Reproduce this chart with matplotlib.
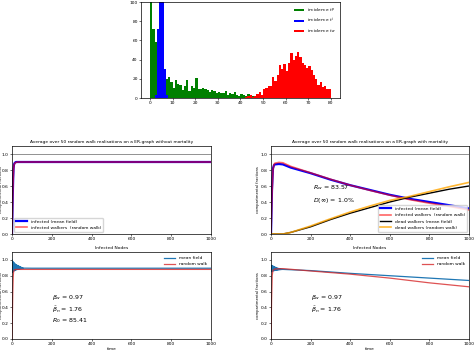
import matplotlib
matplotlib.use("Agg")
import matplotlib.pyplot as plt

# ---- histogram data (counts per unit bin) ----
tp_bins = list(range(0, 46))
tp_counts = [140, 72, 58, 58, 45, 30, 25, 20, 22, 17, 10, 19, 15, 14, 8, 12,
             19, 7, 12, 10, 21, 9, 9, 10, 9, 8, 6, 8, 7, 5, 6, 5, 5, 7, 3, 5,
             4, 6, 3, 2, 4, 3, 2, 4, 1, 2]
ti_bins = [2, 3, 4, 5, 6, 7]
ti_counts = [3, 72, 180, 220, 30, 3]
tw_bins = list(range(42, 80))
tw_counts = [1, 2, 3, 1, 2, 4, 6, 3, 9, 10, 13, 13, 22, 18, 24, 34, 30, 35,
             28, 36, 47, 40, 44, 48, 43, 36, 34, 31, 33, 29, 24, 20, 14, 17,
             11, 12, 9, 9]

# ---- without mortality ----
nm_t = [0, 2, 4, 6, 8, 10, 14, 20, 30, 1000]
nm_mf = [0, 0.25, 0.5, 0.7, 0.82, 0.87, 0.89, 0.9, 0.9, 0.9]
nm_rw = [0, 0.24, 0.49, 0.69, 0.81, 0.86, 0.885, 0.895, 0.9, 0.9]

# ---- with mortality ----
wm_t = [0, 5, 10, 15, 20, 40, 60, 100, 200, 300, 400, 500, 600, 700, 800, 900, 1000]
wm_inf_mf = [0, 0.55, 0.82, 0.86, 0.87, 0.875, 0.87, 0.83, 0.76, 0.68, 0.61,
             0.55, 0.49, 0.44, 0.40, 0.36, 0.32]
wm_inf_rw = [0, 0.5, 0.8, 0.87, 0.885, 0.895, 0.89, 0.845, 0.765, 0.685, 0.61,
             0.545, 0.485, 0.43, 0.385, 0.345, 0.30]
dead_t = [0, 60, 100, 200, 300, 400, 500, 600, 700, 800, 900, 1000]
dead_mf = [0, 0, 0.02, 0.09, 0.18, 0.26, 0.33, 0.40, 0.46, 0.51, 0.56, 0.60]
dead_rw = [0, 0, 0.02, 0.10, 0.19, 0.275, 0.35, 0.42, 0.47, 0.53, 0.59, 0.645]

# ---- infected nodes, without mortality ----
n1_mf_t = list(range(0, 62, 2)) + [100, 1000]
n1_mf = [1.0, 0.84, 0.98, 0.85, 0.97, 0.86, 0.96, 0.865, 0.95, 0.87, 0.94,
         0.875, 0.935, 0.878, 0.93, 0.88, 0.925, 0.883, 0.92, 0.885, 0.915,
         0.887, 0.91, 0.889, 0.905, 0.891, 0.902, 0.892, 0.899, 0.894, 0.896,
         0.895, 0.895]
n1_rw_t = [0, 2, 4, 6, 8, 12, 20, 1000]
n1_rw = [0, 0.3, 0.6, 0.78, 0.85, 0.875, 0.88, 0.88]

# ---- infected nodes, with mortality ----
n2_mf_t = list(range(0, 62, 2)) + [200, 400, 600, 800, 1000]
n2_mf = [0.93, 0.85, 0.93, 0.855, 0.925, 0.86, 0.92, 0.862, 0.915, 0.865,
         0.91, 0.867, 0.905, 0.868, 0.9, 0.87, 0.897, 0.872, 0.894, 0.874,
         0.891, 0.875, 0.889, 0.876, 0.887, 0.877, 0.885, 0.878, 0.884, 0.879,
         0.88, 0.865, 0.83, 0.80, 0.77, 0.74]
n2_rw_t = [0, 3, 6, 10, 20, 60, 200, 400, 600, 800, 1000]
n2_rw = [0, 0.5, 0.8, 0.87, 0.885, 0.89, 0.86, 0.82, 0.77, 0.71, 0.66]

FS = 3.2
W, H = 474, 350
fig = plt.figure(figsize=(W / 100, H / 100), dpi=100)


def box(x0, y0, x1, y1):
    return [x0 / W, 1 - y1 / H, (x1 - x0) / W, (y1 - y0) / H]


def style(ax, ylab=None, xlab=None, ylab_x=-0.045):
    ax.tick_params(labelsize=FS, length=1.5, width=0.4, pad=0.8)
    for s in ax.spines.values():
        s.set_linewidth(0.5)
    if ylab:
        ax.set_ylabel(ylab, fontsize=FS * 0.85)
        ax.yaxis.set_label_coords(ylab_x, 0.5)
    if xlab:
        ax.set_xlabel(xlab, fontsize=FS)
        ax.xaxis.set_label_coords(0.5, -0.095)


# histogram
ax = fig.add_axes(box(141, 2, 340, 98))
ax.bar(tp_bins, tp_counts, width=1, align="edge", color="green", label="incidence $t^p$")
ax.bar(ti_bins, ti_counts, width=1, align="edge", color="blue", label="incidence $t^i$")
ax.bar(tw_bins, tw_counts, width=1, align="edge", color="red", label="incidence $t_w$")
ax.set_ylim(0, 100)
ax.set_xlim(-4, 84)
ax.set_xticks(range(0, 81, 10))
style(ax)
ax.legend(fontsize=FS, frameon=False, loc="upper right", handlelength=2.2,
          handleheight=0.5, labelspacing=0.5)

# top-left
ax = fig.add_axes(box(12, 146, 211, 234))
ax.axhline(1.0, color="grey", lw=0.6)
ax.plot(nm_t, nm_mf, color="blue", lw=1.6, label="infected (mean field)")
ax.plot(nm_t, nm_rw, color="red", lw=1.2, alpha=0.6, label="infected walkers  (random walk)")
ax.set_xlim(0, 1000)
ax.set_ylim(0, 1.1)
ax.set_title("Average over 50 random walk realisations on a ER-graph without mortality",
             fontsize=FS, pad=2)
style(ax, ylab="compartmental fractions")
ax.legend(fontsize=FS, loc="lower left", handlelength=2.5)

# top-right
ax = fig.add_axes(box(271, 146, 469, 234))
ax.axhline(1.0, color="grey", lw=0.6)
ax.plot(wm_t, wm_inf_mf, color="blue", lw=1.6, label="infected (mean field)")
ax.plot(wm_t, wm_inf_rw, color="red", lw=1.2, alpha=0.6, label="infected walkers  (random walk)")
ax.plot(dead_t, dead_mf, color="black", lw=1.0, label="dead walkers (mean field)")
ax.plot(dead_t, dead_rw, color="orange", lw=1.2, alpha=0.8, label="dead walkers (random walk)")
ax.text(210, 0.575, r"$R_w$ = 83.57", fontsize=4.5, va="center")
ax.text(210, 0.42, r"$D(\infty)$ = 1.0%", fontsize=4.5, va="center")
ax.set_xlim(0, 1000)
ax.set_ylim(0, 1.1)
ax.set_title("Average over 50 random walk realisations on a ER-graph with mortality",
             fontsize=FS, pad=2)
style(ax, ylab="compartmental fractions", ylab_x=-0.055)
ax.legend(fontsize=FS, loc="lower right", handlelength=2.5)

# bottom-left
ax = fig.add_axes(box(12, 252, 211, 339))
ax.plot(n1_mf_t, n1_mf, color="tab:blue", lw=0.9, label="mean field")
ax.plot(n1_rw_t, n1_rw, color="tab:red", lw=0.9, alpha=0.8, label="random walk")
ax.text(200, 0.52, r"$\beta_w$ = 0.97", fontsize=4.5, va="center")
ax.text(200, 0.37, r"$\bar{\beta}_n$ = 1.76", fontsize=4.5, va="center")
ax.text(200, 0.23, r"$R_0$ = 85.41", fontsize=4.5, va="center")
ax.set_xlim(0, 1000)
ax.set_ylim(0, 1.1)
ax.set_title("Infected Nodes", fontsize=FS, pad=2)
style(ax, ylab="compartmental fractions", xlab="time")
ax.legend(fontsize=FS, loc="upper right", frameon=False, handlelength=2.5)

# bottom-right
ax = fig.add_axes(box(271, 252, 469, 339))
ax.plot(n2_mf_t, n2_mf, color="tab:blue", lw=0.9, label="mean field")
ax.plot(n2_rw_t, n2_rw, color="tab:red", lw=0.9, alpha=0.8, label="random walk")
ax.text(202, 0.52, r"$\beta_w$ = 0.97", fontsize=4.5, va="center")
ax.text(202, 0.37, r"$\bar{\beta}_n$ = 1.76", fontsize=4.5, va="center")
ax.set_xlim(0, 1000)
ax.set_ylim(0, 1.1)
ax.set_title("Infected Nodes", fontsize=FS, pad=2)
style(ax, ylab="compartmental fractions", xlab="time", ylab_x=-0.055)
ax.legend(fontsize=FS, loc="upper right", frameon=False, handlelength=2.5)

fig.savefig("out.png", dpi=100)
